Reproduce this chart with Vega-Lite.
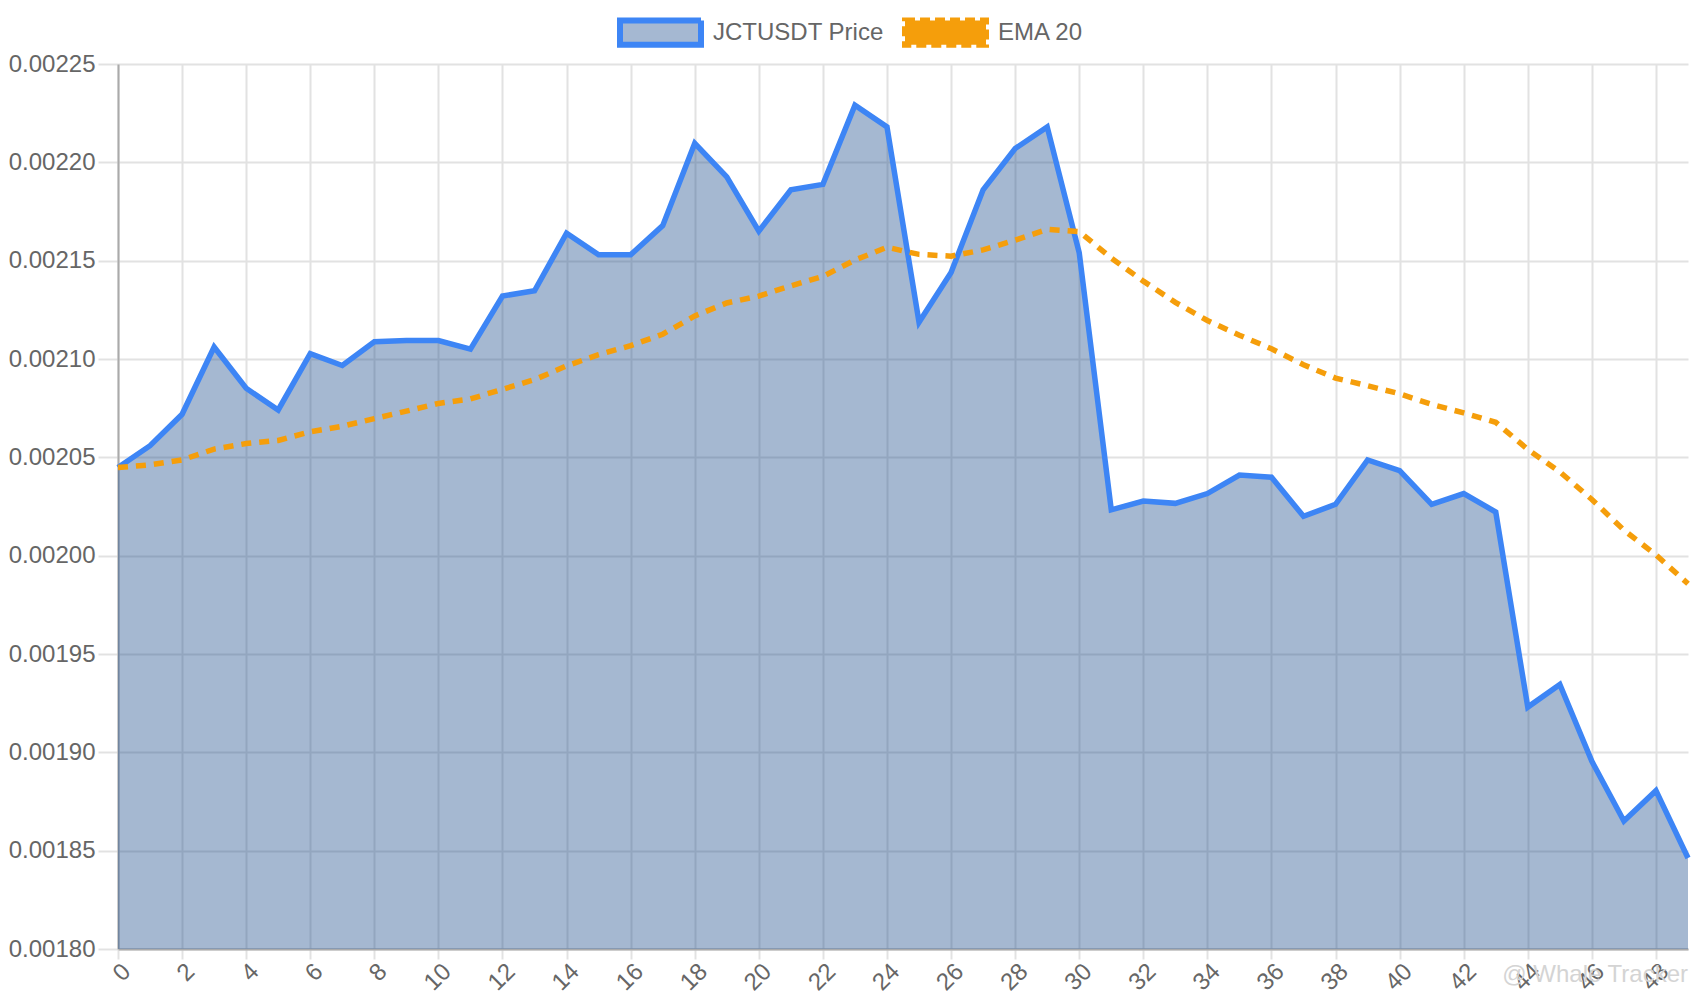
{
  "$schema": "https://vega.github.io/schema/vega-lite/v6.json",
  "width": 1570,
  "height": 885,
  "autosize": {"type": "none"},
  "padding": {"left": 118, "top": 64, "right": 12, "bottom": 51},
  "background": "white",
  "config": {
    "view": {"stroke": null},
    "font": "Liberation Sans",
    "axis": {"labelFont": "Liberation Sans", "labelFontSize": 24, "labelColor": "#666", "gridColor": "#e2e2e2", "gridWidth": 2, "tickColor": "#e2e2e2", "tickWidth": 2, "tickSize": 20, "domainColor": "#aaa", "domainWidth": 2, "title": null}
  },
  "title": {"text": "@ Whale Tracker", "orient": "bottom", "anchor": "end", "frame": "group", "fontSize": 24, "fontWeight": "normal", "color": "#d4d4d4", "offset": -32},
  "data": {
    "values": [
      {"i": 0, "price": 0.0020448, "ema": 0.0020448},
      {"i": 1, "price": 0.0020559, "ema": 0.0020462},
      {"i": 2, "price": 0.0020719, "ema": 0.0020487},
      {"i": 3, "price": 0.0021061, "ema": 0.0020542},
      {"i": 4, "price": 0.0020851, "ema": 0.002057},
      {"i": 5, "price": 0.0020741, "ema": 0.0020586},
      {"i": 6, "price": 0.0021027, "ema": 0.002063},
      {"i": 7, "price": 0.0020967, "ema": 0.0020658},
      {"i": 8, "price": 0.0021088, "ema": 0.0020697},
      {"i": 9, "price": 0.0021094, "ema": 0.0020735},
      {"i": 10, "price": 0.0021094, "ema": 0.0020774},
      {"i": 11, "price": 0.002105, "ema": 0.0020797},
      {"i": 12, "price": 0.002132, "ema": 0.0020846},
      {"i": 13, "price": 0.0021347, "ema": 0.0020895},
      {"i": 14, "price": 0.002164, "ema": 0.0020965},
      {"i": 15, "price": 0.002153, "ema": 0.0021022},
      {"i": 16, "price": 0.002153, "ema": 0.0021068},
      {"i": 17, "price": 0.0021678, "ema": 0.0021126},
      {"i": 18, "price": 0.0022097, "ema": 0.0021219},
      {"i": 19, "price": 0.0021926, "ema": 0.0021285},
      {"i": 20, "price": 0.002165, "ema": 0.002132},
      {"i": 21, "price": 0.002186, "ema": 0.0021372},
      {"i": 22, "price": 0.0021888, "ema": 0.002142},
      {"i": 23, "price": 0.002229, "ema": 0.0021503},
      {"i": 24, "price": 0.002218, "ema": 0.0021568},
      {"i": 25, "price": 0.0021187, "ema": 0.0021532},
      {"i": 26, "price": 0.002144, "ema": 0.0021523},
      {"i": 27, "price": 0.002186, "ema": 0.0021555},
      {"i": 28, "price": 0.002207, "ema": 0.0021604},
      {"i": 29, "price": 0.002218, "ema": 0.0021659},
      {"i": 30, "price": 0.002154, "ema": 0.0021648},
      {"i": 31, "price": 0.0020233, "ema": 0.0021513},
      {"i": 32, "price": 0.0020278, "ema": 0.0021396},
      {"i": 33, "price": 0.0020266, "ema": 0.0021288},
      {"i": 34, "price": 0.0020316, "ema": 0.0021196},
      {"i": 35, "price": 0.002041, "ema": 0.0021121},
      {"i": 36, "price": 0.0020399, "ema": 0.0021052},
      {"i": 37, "price": 0.00202, "ema": 0.0020971},
      {"i": 38, "price": 0.0020261, "ema": 0.0020903},
      {"i": 39, "price": 0.0020487, "ema": 0.0020864},
      {"i": 40, "price": 0.0020432, "ema": 0.0020823},
      {"i": 41, "price": 0.0020261, "ema": 0.0020769},
      {"i": 42, "price": 0.0020316, "ema": 0.0020726},
      {"i": 43, "price": 0.0020222, "ema": 0.0020678},
      {"i": 44, "price": 0.001923, "ema": 0.0020540},
      {"i": 45, "price": 0.0019345, "ema": 0.0020426},
      {"i": 46, "price": 0.0018954, "ema": 0.0020286},
      {"i": 47, "price": 0.0018651, "ema": 0.0020130},
      {"i": 48, "price": 0.0018805, "ema": 0.0020004},
      {"i": 49, "price": 0.0018463, "ema": 0.0019857}
    ]
  },
  "encoding": {
    "x": {"field": "i", "type": "quantitative", "scale": {"domain": [0, 49], "nice": false, "zero": false},
      "axis": {"values": [0, 2, 4, 6, 8, 10, 12, 14, 16, 18, 20, 22, 24, 26, 28, 30, 32, 34, 36, 38, 40, 42, 44, 46, 48], "format": "d", "labelAngle": -45, "labelPadding": 0, "tickSize": 10}}
  },
  "layer": [
    {
      "mark": {"type": "area", "fill": "#1f4e8c", "fillOpacity": 0.4},
      "encoding": {
        "y": {"field": "price", "type": "quantitative", "scale": {"domain": [0.0018, 0.00225], "nice": false, "zero": false},
          "axis": {"values": [0.0018, 0.00185, 0.0019, 0.00195, 0.002, 0.00205, 0.0021, 0.00215, 0.0022, 0.00225], "format": ".5f", "labelPadding": 3}},
        "y2": {"datum": 0.0018}
      }
    },
    {
      "mark": {"type": "line", "strokeWidth": 5.5, "strokeJoin": "miter"},
      "encoding": {
        "y": {"field": "price", "type": "quantitative"},
        "stroke": {"datum": "JCTUSDT Price", "type": "nominal",
          "scale": {"domain": ["JCTUSDT Price", "EMA 20"], "range": ["#3d85f5", "#f59e0b"]},
          "legend": {
            "title": null, "orient": "none", "direction": "horizontal", "legendX": 499, "legendY": -75,
            "symbolType": "M-1,-0.3H1V0.3H-1Z", "symbolSize": 6561, "symbolStrokeWidth": 6,
            "labelFont": "Liberation Sans", "labelFontSize": 24, "labelColor": "#666", "labelOffset": 9, "labelLimit": 400, "columnPadding": 9,
            "encode": {"symbols": {"update": {
              "fill": {"signal": "datum.value === 'EMA 20' ? '#f59e0b' : '#a5b8d2'"},
              "fillOpacity": {"value": 1},
              "strokeDash": {"signal": "datum.value === 'EMA 20' ? [10, 5] : [1, 0]"}
            }}}
          }}
      }
    },
    {
      "mark": {"type": "line", "strokeWidth": 5.5, "strokeDash": [10, 8]},
      "encoding": {
        "y": {"field": "ema", "type": "quantitative"},
        "stroke": {"datum": "EMA 20", "type": "nominal"}
      }
    }
  ]
}
